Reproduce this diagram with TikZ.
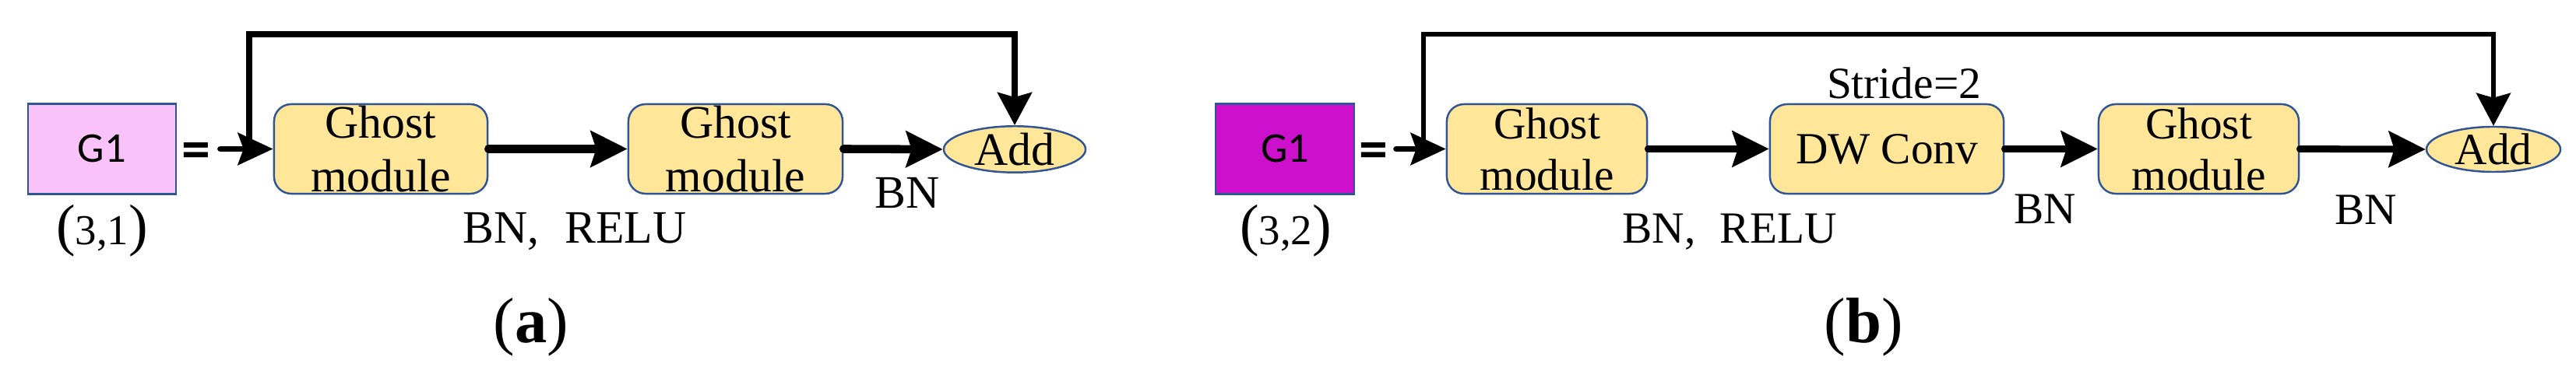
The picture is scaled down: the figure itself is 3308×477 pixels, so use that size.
\documentclass[tikz,border=0pt]{standalone}
\usepackage{fontspec}
\setmainfont{Liberation Serif}
\newfontfamily\calib{Carlito}
\usetikzlibrary{arrows.meta,shapes.geometric}
\definecolor{bordblue}{RGB}{47,85,151}
\definecolor{modfill}{RGB}{255,230,153}
\definecolor{pinkfill}{RGB}{249,194,249}
\definecolor{magfill}{RGB}{204,16,204}
\newcommand\myparen[1]{{\fontsize{21}{21}\selectfont #1}}
\begin{document}
\begin{tikzpicture}[x=0.01cm,y=-0.01cm,
  modbox/.style={draw=bordblue, line width=0.7pt, fill=modfill, rounded corners=0.22cm,
    minimum height=1.15cm, inner sep=0pt, align=center},
  gbox/.style={draw=bordblue, line width=0.8pt, minimum height=1.16cm, inner sep=0pt,
    font=\calib\fontsize{15.5}{18}\selectfont},
  addnode/.style={draw=bordblue, line width=0.7pt, fill=modfill, shape=ellipse,
    minimum height=0.58cm, inner sep=0pt},
  eqsign/.style={font=\calib\bfseries\fontsize{21}{21}\selectfont, inner sep=0pt, anchor=base},
  fa/.style={font=\fontsize{17}{19.6}\selectfont},
  fb/.style={font=\fontsize{16.3}{18.8}\selectfont},
  mainarr/.style={line cap=round, -{Stealth[length=0.47cm,width=0.46cm,inset=0.07cm]}},
  inarr/.style={line width=2.2pt, line cap=round, -{Stealth[length=0.45cm,width=0.41cm,inset=0.07cm]}},
  skiparr/.style={-{Stealth[length=0.42cm,width=0.44cm,inset=0.06cm]}},
  lbl/.style={inner sep=0pt, anchor=base},
  captxt/.style={inner sep=0pt, anchor=base, font=\fontsize{23.5}{26}\selectfont}
]
\useasboundingbox (0,0) rectangle (3308,477);

% ---------------- panel (a) ----------------
\node[gbox, fill=pinkfill, minimum width=1.90cm] (g1a) at (131,191.5) {G1};
\node[eqsign] (eqa) at (252,217) {=};
\node[modbox, fa, minimum width=2.74cm] (gm1a) at (489,191.5) {Ghost\\module};
\node[modbox, fa, minimum width=2.75cm] (gm2a) at (944.5,191.5) {Ghost\\module};
\node[addnode, fa, minimum width=1.82cm] (adda) at (1303,192) {Add};
\coordinate (ina) at (283,191.5);
\coordinate (sa) at (320,191.5);
\coordinate (topa) at (320,44);
\draw[inarr] (ina) -- (gm1a.west);
\draw[line width=2pt, skiparr] (sa) -- (topa) -| (adda.north);
\draw[line width=3pt, mainarr] (gm1a.east) -- (gm2a.west);
\draw[line width=3pt, mainarr] (gm2a.east) -- (adda.west);
\node[lbl, fa] (bnrelua) at (738,313) {BN,\hspace{0.55em}RELU};
\node[lbl, fa] (bna) at (1165,268) {BN};
\node[lbl, font=\fontsize{15.6}{18}\selectfont] (p31) at (131,315) {\myparen{(}3,1\myparen{)}};
\node[captxt] (capa) at (682,441) {(\textbf{a})};

% ---------------- panel (b) ----------------
\node[gbox, fill=magfill, minimum width=1.78cm] (g1b) at (1650,191.5) {G1};
\node[eqsign] (eqb) at (1764,217) {=};
\node[modbox, fb, minimum width=2.57cm] (gm1b) at (1986.5,191.5) {Ghost\\module};
\node[modbox, fb, minimum width=3.00cm] (dwb) at (2423,191.5) {DW Conv};
\node[modbox, fb, minimum width=2.57cm] (gm3b) at (2823.5,191.5) {Ghost\\module};
\node[addnode, fb, minimum width=1.72cm] (addb) at (3202,192) {Add};
\coordinate (inb) at (1793,191.5);
\coordinate (sb) at (1828,191.5);
\coordinate (topb) at (1828,44);
\draw[inarr] (inb) -- (gm1b.west);
\draw[line width=1.6pt, skiparr] (sb) -- (topb) -| (addb.north);
\draw[line width=2.5pt, mainarr] (gm1b.east) -- (dwb.west);
\draw[line width=2.5pt, mainarr] (dwb.east) -- (gm3b.west);
\draw[line width=2.5pt, mainarr] (gm3b.east) -- (addb.west);
\node[lbl, fb] (stride) at (2445,127) {Stride=2};
\node[lbl, fb] (bnrelub) at (2221,313) {BN,\hspace{0.55em}RELU};
\node[lbl, fb] (bnb1) at (2626,288) {BN};
\node[lbl, fb] (bnb2) at (3038,289) {BN};
\node[lbl, font=\fontsize{15.6}{18}\selectfont] (p32) at (1651,315) {\myparen{(}3,2\myparen{)}};
\node[captxt] (capb) at (2393,441) {(\textbf{b})};
\end{tikzpicture}
\end{document}
